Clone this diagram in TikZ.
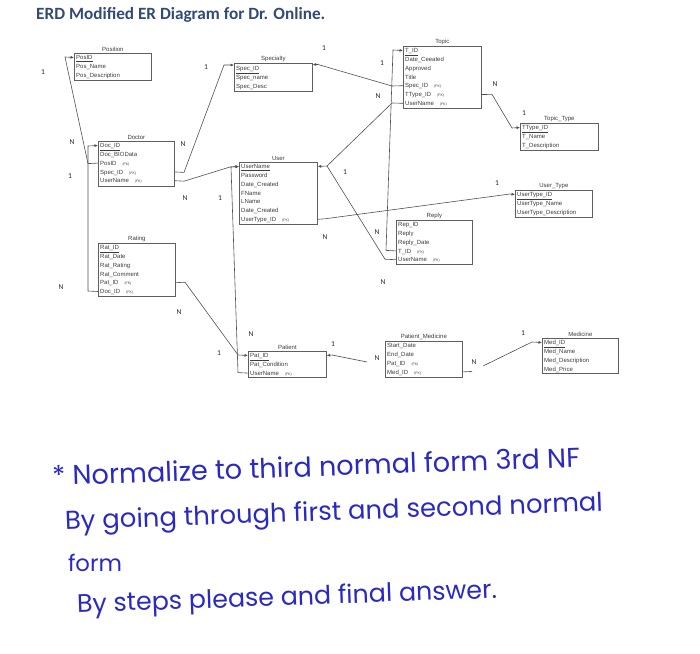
\documentclass[tikz,border=0pt]{standalone}
\usepackage{fontspec}
\usepackage{graphicx}
\setmainfont{Liberation Sans}
\newfontfamily\carl{Carlito}
\newfontfamily\hand{Poppins}
\usetikzlibrary{arrows.meta}
\definecolor{boxline}{RGB}{95,95,95}
\definecolor{linec}{RGB}{80,80,80}
\definecolor{txt}{RGB}{60,60,60}
\definecolor{ttl}{RGB}{50,74,118}
\definecolor{pen}{RGB}{42,42,195}
\newcommand{\fk}{\hspace{6pt}{\fontsize{3.5}{4}\selectfont (FK)}}
\newcommand{\ent}[6]{\node[ebox, minimum width=#4pt, minimum height=#5pt] (#1) at (#2,#3) {};
  \node[etitle] (#1-ttl) at (#1.north) {#6};}
\newcommand{\rows}[4]{\foreach \t [count=\i] in {#4} {\node[row] (#1-\i) at (#2,{#3+(\i-1)*8.8}) {\t};}}
\begin{document}
\begin{tikzpicture}[x=1pt,y=-1pt,
  ebox/.style={draw=boxline, line width=0.7pt, anchor=north west, inner sep=0pt},
  etitle/.style={anchor=south, inner sep=0.8pt, font=\fontsize{6}{7}\selectfont, text=txt},
  row/.style={anchor=west, inner sep=0pt, text height=5.2pt, text depth=1pt, font=\fontsize{6}{7}\selectfont, text=txt},
  card/.style={inner sep=0pt, font=\carl\fontsize{7.5}{8}\selectfont, text=black!85},
  conn/.style={draw=linec, line width=0.6pt},
  tip/.style={-{Latex[length=3.5pt,width=3pt]}},
  hw/.style={inner sep=0pt, font=\hand\fontsize{24}{28}\selectfont, text=pen}]
\useasboundingbox[fill=white] (0,0) rectangle (700,653);

\node[anchor=west, inner sep=0pt, font=\carl\bfseries\fontsize{17.2}{19}\selectfont, text=ttl] (title) at (36,15) {ERD Modified ER Diagram for Dr. Online.};

% entities
\ent{pos}{74}{53}{77}{27}{Position}
\rows{po}{76}{57.5}{\underline{PosID}, Pos\_Name, Pos\_Description}
\ent{spec}{234}{63}{78}{28}{Specialty}
\rows{sp}{236}{68.5}{\underline{Spec\_ID}, Spec\_name, Spec\_Desc}
\ent{doc}{98}{141}{76}{45}{Doctor}
\rows{dr}{100}{145.5}{\underline{Doc\_ID}, Doc\_BIOData, PosID\fk, Spec\_ID\fk, UserName\fk}
\ent{user}{239}{162}{78}{62}{User}
\rows{us}{241}{166.5}{\underline{UserName}, Password, Date\_Created, FName, LName, Date\_Created, UserType\_ID\fk}
\ent{topic}{403}{46}{78}{62}{Topic}
\rows{tp}{405}{50.5}{\underline{T\_ID}, Date\_Ceeated, Approved, Title, Spec\_ID\fk, TType\_ID\fk, UserName\fk}
\ent{ttype}{520}{123}{78}{27}{Topic\_Type}
\rows{tt}{522}{127.5}{\underline{TType\_ID}, T\_Name, T\_Description}
\ent{utype}{515}{190}{77}{27}{User\_Type}
\rows{ut}{517}{194.5}{\underline{UserType\_ID}, UserType\_Name, UserType\_Description}
\ent{reply}{396}{220}{76}{44}{Reply}
\rows{rp}{398}{224.5}{Rep\_ID, Reply, Reply\_Date, T\_ID\fk, UserName\fk}
\ent{rating}{98}{243}{77}{53}{Rating}
\rows{ra}{100}{247.5}{\underline{Rat\_ID}, Rat\_Date, Rat\_Rating, Rat\_Comment, Pat\_ID\fk, Doc\_ID\fk}
\ent{patient}{248}{351}{78}{26}{Patient}
\rows{pa}{250}{355.5}{\underline{Pat\_ID}, Pat\_Condition, UserName\fk}
\ent{pm}{385}{341}{77}{36}{Patient\_Medicine}
\rows{pmr}{387}{345.5}{Start\_Date, End\_Date, Pat\_ID\fk, Med\_ID\fk}
\ent{med}{542}{338}{76}{35}{Medicine}
\rows{me}{544}{342.5}{\underline{Med\_ID}, Med\_Name, Med\_Description, Med\_Price}

% bend coordinates
\coordinate (b1a) at (88,163.6); \coordinate (b1b) at (65,57);
\coordinate (b2a) at (88,291); \coordinate (b2b) at (88,146);
\coordinate (b3a) at (184,172.4); \coordinate (b3b) at (224,65);
\coordinate (b4a) at (184,181.2); \coordinate (b4b) at (230,167);
\coordinate (b5a) at (238,372.6); \coordinate (b5b) at (231,167);
\coordinate (b6a) at (185,282.2); \coordinate (b6b) at (238,355);
\coordinate (b7a) at (392,86); \coordinate (b7b) at (318,64.5);
\coordinate (b8a) at (392,103); \coordinate (ujn) at (327,166);
\coordinate (b9a) at (385,259.2);
\coordinate (b10a) at (386,250.4); \coordinate (b10b) at (393,50);
\coordinate (b11a) at (492,94.4); \coordinate (b11b) at (512,128);
\coordinate (b12a) at (325,218.8); \coordinate (b12b) at (510,194);
\coordinate (pmfree) at (367,362); \coordinate (b13a) at (332,355);
\coordinate (pmfree2) at (472,371.4);
\coordinate (medfree) at (483,366); \coordinate (b14a) at (532,342);

% connectors
\draw[conn,tip] (doc.west |- dr-3) -- (b1a) -- (b1b) -- (pos.west |- po-1);
\draw[conn,tip] (rating.west |- ra-6) -- (b2a) -- (b2b) -- (doc.west |- dr-1);
\draw[conn,tip] (doc.east |- dr-4) -- (b3a) -- (b3b) -- ([yshift=-2pt]spec.north west);
\draw[conn,tip] (doc.east |- dr-5) -- (b4a) -- (b4b) -- (user.west |- us-1);
\draw[conn,tip] (patient.west |- pa-3) -- (b5a) -- (b5b) -- (user.west |- us-1);
\draw[conn,tip] (rating.east |- ra-5) -- (b6a) -- (b6b) -- (patient.west |- pa-1);
\draw[conn,tip] (topic.west |- tp-5) -- (b7a) -- (b7b) -- ([yshift=-1.5pt]spec.north east);
\draw[conn,tip] (topic.west |- tp-7) -- (b8a) -- (ujn) -- (user.east |- us-1);
\draw[conn] (reply.west |- rp-5) -- (b9a) -- (ujn);
\draw[conn,tip] (reply.west |- rp-4) -- (b10a) -- (b10b) -- (topic.west |- tp-1);
\draw[conn,tip] (topic.east |- tp-6) -- (b11a) -- (b11b) -- (ttype.west |- tt-1);
\draw[conn,tip] (user.east |- us-7) -- (b12a) -- (b12b) -- (utype.west |- ut-1);
\draw[conn,tip] (pmfree) -- (b13a) -- (patient.east |- pa-1);
\draw[conn] (pm.east |- pmr-4) -- (pmfree2);
\draw[conn,tip] (medfree) -- (b14a) -- (med.west |- me-1);

% cardinalities
\node[card] (k1) at (43,72) {1};
\node[card] (k2) at (72,142) {N};
\node[card] (k3) at (70,176) {1};
\node[card] (k4) at (206,67) {1};
\node[card] (k5) at (324,48) {1};
\node[card] (k6) at (183,144) {N};
\node[card] (k7) at (185,198) {N};
\node[card] (k8) at (220,198) {1};
\node[card] (k9) at (345,172) {1};
\node[card] (k10) at (325,237) {N};
\node[card] (k11) at (382,63) {1};
\node[card] (k12) at (378,96) {N};
\node[card] (k13) at (495,84) {N};
\node[card] (k14) at (524,113) {1};
\node[card] (k15) at (497,183) {1};
\node[card] (k16) at (377,232) {N};
\node[card] (k17) at (383,282) {N};
\node[card] (k18) at (61,287) {N};
\node[card] (k19) at (179,312) {N};
\node[card] (k20) at (251,334) {N};
\node[card] (k21) at (219,353) {1};
\node[card] (k22) at (333,344) {1};
\node[card] (k23) at (377,358) {N};
\node[card] (k24) at (474,362) {N};
\node[card] (k25) at (523,333) {1};

% handwritten note
\node[hw, rotate=2] (h1) at (316,466) {\resizebox{528pt}{!}{* Normalize to third normal form 3rd NF}};
\node[hw, rotate=2] (h2) at (334,514) {\resizebox{538pt}{!}{By going through first and second normal}};
\node[hw] (h3) at (95,563) {\resizebox{54pt}{!}{form}};
\node[hw, rotate=2] (h4) at (287,599) {\resizebox{420pt}{!}{By steps please and final answer.}};
\end{tikzpicture}
\end{document}
